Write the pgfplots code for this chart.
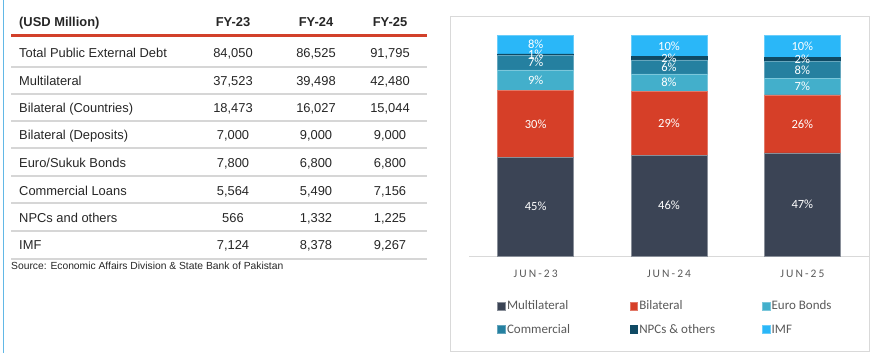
\documentclass[border=0pt]{standalone}
\usepackage{fontspec}
\usepackage{pgfplots}
\pgfplotsset{compat=1.18}
\setmainfont{Liberation Sans}
\newfontfamily\chartfont{Carlito}
\newfontfamily\tickfont[LetterSpace=18]{Carlito}
\definecolor{cMulti}{HTML}{3B4455}
\definecolor{cBil}{HTML}{D63F28}
\definecolor{cEuro}{HTML}{43AFCB}
\definecolor{cComm}{HTML}{2580A0}
\definecolor{cNPC}{HTML}{0F4A64}
\definecolor{cIMF}{HTML}{2AB7F8}
\definecolor{txt}{HTML}{262626}
\definecolor{sepc}{HTML}{D6D6D6}
\definecolor{gridc}{HTML}{D9D9D9}
\definecolor{legtxt}{HTML}{595959}
\definecolor{vline}{HTML}{62B8E6}
\definecolor{redline}{HTML}{D2402A}
\newcommand\tabfont{\fontsize{12.9}{14}\selectfont}
\newcommand\trow[5]{%
  \node[anchor=base west] at (19pt,-#1pt) {#2};
  \node[anchor=base] at (233pt,-#1pt) {#3};
  \node[anchor=base] at (316pt,-#1pt) {#4};
  \node[anchor=base] at (390pt,-#1pt) {#5};}
\begin{document}
\begin{tikzpicture}
\draw[vline, line width=1pt] (3.5pt,0pt) -- (3.5pt,-353pt);
% table
\begin{scope}[every node/.style={inner sep=0pt, font=\tabfont, text=txt}]
\begin{scope}[every node/.append style={font=\tabfont\bfseries}]
\trow{27}{(USD Million)}{FY-23}{FY-24}{FY-25}
\end{scope}
\draw[redline, line width=3pt] (11pt,-36pt) -- (427pt,-36pt);
\trow{57.5}{Total Public External Debt}{84,050}{86,525}{91,795}
\trow{85}{Multilateral}{37,523}{39,498}{42,480}
\trow{112.5}{Bilateral (Countries)}{18,473}{16,027}{15,044}
\trow{139.5}{Bilateral (Deposits)}{7,000}{9,000}{9,000}
\trow{167}{Euro/Sukuk Bonds}{7,800}{6,800}{6,800}
\trow{195.5}{Commercial Loans}{5,564}{5,490}{7,156}
\trow{222.5}{NPCs and others}{566}{1,332}{1,225}
\trow{249.5}{IMF}{7,124}{8,378}{9,267}
\foreach \yy in {67,93.5,120.5,148,176,203,231,259}{
  \draw[sepc, line width=2pt] (11pt,-\yy pt) -- (427pt,-\yy pt);}
\node[anchor=base west, font=\fontsize{10.3}{11}\selectfont] at (11pt,-269.5pt) {Source: Economic Affairs Division \& State Bank of Pakistan};
\end{scope}
% chart box
\draw[gridc, line width=1pt] (450.5pt,-16.5pt) rectangle (869.5pt,-351.5pt);
\begin{axis}[
  at={(469pt,-256pt)}, anchor=south west,
  scale only axis, width=400pt, height=221pt,
  ybar stacked, bar width=76pt,
  xmin=-0.5, xmax=2.5, ymin=0, ymax=100,
  axis y line=none, axis x line*=bottom,
  x axis line style={draw=gridc, line width=1pt, -},
  xtick={0,1,2}, xticklabels={JUN-23,JUN-24,JUN-25},
  major tick length=0pt,
  xticklabel style={font=\tickfont\fontsize{11.5}{14}\selectfont, text=legtxt, yshift=-11pt},
  point meta=explicit symbolic,
  nodes near coords={\pgfplotspointmeta},
  every node near coord/.append style={font=\chartfont\fontsize{12.5}{14}\selectfont, text=white, anchor=center, inner sep=0pt},
  legend columns=3,
  legend cell align=left,
  legend style={at={(0.07,-0.195)}, anchor=north west, draw=none, fill=none,
    font=\chartfont\fontsize{13}{15}\selectfont, text=legtxt,
    column sep=0pt, row sep=10pt, inner sep=0pt, nodes={inner sep=1.5pt}},
  legend image code/.code={\fill[#1] (0pt,-3.8pt) rectangle (7.8pt,4pt);},
  clip=false,
]
\addplot[fill=cMulti, draw=cMulti!60!white, line width=0.5pt] coordinates {(0,44.6) [45\%] (1,45.6) [46\%] (2,46.7) [47\%]};
\addplot[fill=cBil, draw=cBil!70!white, line width=0.5pt] coordinates {(0,30.3) [30\%] (1,28.9) [29\%] (2,26.2) [26\%]};
\addplot[fill=cEuro, draw=cEuro!70!white, line width=0.5pt] coordinates {(0,9.3) [9\%] (1,7.9) [8\%] (2,7.4) [7\%]};
\addplot[fill=cComm, draw=cComm!70!white, line width=0.5pt] coordinates {(0,6.6) [7\%] (1,6.3) [6\%] (2,7.8) [8\%]};
\addplot[fill=cNPC, draw=cNPC, line width=0.5pt] coordinates {(0,0.7) [1\%] (1,1.5) [2\%] (2,1.7) [2\%]};
\addplot[fill=cIMF, draw=cIMF!70!white, line width=0.5pt] coordinates {(0,8.5) [8\%] (1,9.8) [10\%] (2,10.2) [10\%]};
\legend{\makebox[121pt][l]{Multilateral},\makebox[121pt][l]{Bilateral},Euro Bonds,\makebox[121pt][l]{Commercial},\makebox[121pt][l]{NPCs \& others},IMF}
\end{axis}
\pgfresetboundingbox
\path (0pt,0pt) rectangle (870pt,-353pt);
\end{tikzpicture}
\end{document}
